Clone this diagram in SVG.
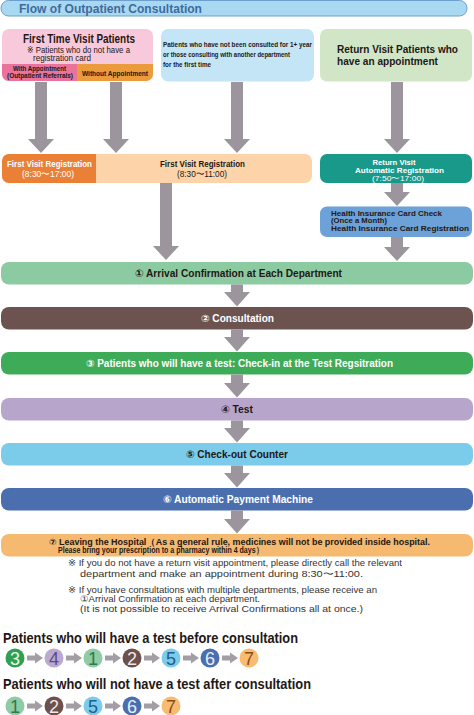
<svg xmlns="http://www.w3.org/2000/svg" width="474" height="715" viewBox="0 0 474 715">
<defs>
<style>
text{font-family:"Liberation Sans",Arial,"DejaVu Sans",sans-serif;fill:#231815}
.b{font-weight:bold}
.w{fill:#ffffff}
.c{text-anchor:middle}
.arr{fill:#9c959e}
.sarr{fill:#a39ea6}
.num{font-size:18px;text-anchor:middle}
.note{font-size:9.2px;fill:#333333}
</style>
<clipPath id="cpPink"><rect x="2" y="29" width="151" height="52" rx="7"/></clipPath>
<clipPath id="cpReg"><rect x="2" y="154" width="310" height="29" rx="7"/></clipPath>
</defs>
<rect width="474" height="715" fill="#ffffff"/>

<g id="title">
<rect x="1" y="0.5" width="466" height="15.5" rx="7.5" fill="#a9d8f1" stroke="#6c9fce" stroke-width="1"/>
<text x="19" y="12.7" class="b" font-size="12.5" textLength="183" lengthAdjust="spacingAndGlyphs" style="fill:#3e6b9e">Flow of Outpatient Consultation</text>
</g>

<g id="first-time">
<g clip-path="url(#cpPink)">
<rect x="2" y="29" width="151" height="52" fill="#f8c9da"/>
<rect x="2" y="64" width="75" height="17" fill="#e9739b"/>
<rect x="77" y="64" width="76" height="17" fill="#eb9a3c"/>
</g>
<text x="79" y="42.7" class="b c" font-size="12.5" textLength="112" lengthAdjust="spacingAndGlyphs">First Time Visit Patients</text>
<text x="27" y="52.6" font-size="8.2" textLength="103" lengthAdjust="spacingAndGlyphs">※ Patients who do not have a</text>
<text x="33" y="61.4" font-size="8.2" textLength="58" lengthAdjust="spacingAndGlyphs">registration card</text>
<text x="39.5" y="71" class="b c" font-size="6.6" textLength="53" lengthAdjust="spacingAndGlyphs">With Appointment</text>
<text x="40" y="77.6" class="b c" font-size="6.6" textLength="66" lengthAdjust="spacingAndGlyphs">(Outpatient Referrals)</text>
<text x="115" y="75.5" class="b c" font-size="8" textLength="66" lengthAdjust="spacingAndGlyphs">Without Appointment</text>
</g>

<g id="not-consulted">
<rect x="161" y="29" width="153" height="52.5" rx="7" fill="#c4e5f5"/>
<text x="163" y="47.3" class="b" font-size="8" textLength="149" lengthAdjust="spacingAndGlyphs">Patients who have not been consulted for 1+ year</text>
<text x="163" y="57.3" class="b" font-size="8" textLength="127" lengthAdjust="spacingAndGlyphs">or those consulting with another department</text>
<text x="163" y="67.3" class="b" font-size="8" textLength="48" lengthAdjust="spacingAndGlyphs">for the first time</text>
</g>

<g id="return-visit">
<rect x="320" y="29" width="152" height="52.5" rx="7" fill="#d1e5c7"/>
<text x="337" y="53.3" class="b" font-size="11.5" textLength="121" lengthAdjust="spacingAndGlyphs">Return Visit Patients who</text>
<text x="337" y="64.5" class="b" font-size="11.5" textLength="101" lengthAdjust="spacingAndGlyphs">have an appointment</text>
</g>

<g id="first-visit-registration">
<g clip-path="url(#cpReg)">
<rect x="2" y="154" width="310" height="29" fill="#fdd4a9"/>
<rect x="2" y="154" width="94" height="29" fill="#ea7f36"/>
</g>
<text x="49.5" y="166.7" class="b c w" font-size="9" textLength="85" lengthAdjust="spacingAndGlyphs">First Visit Registration</text>
<text x="48" y="176.5" class="c w" font-size="8.8" textLength="52" lengthAdjust="spacingAndGlyphs">(8:30〜17:00)</text>
<text x="202.5" y="166.7" class="b c" font-size="9" textLength="85" lengthAdjust="spacingAndGlyphs">First Visit Registration</text>
<text x="202" y="176.5" class="c" font-size="8.8" textLength="50" lengthAdjust="spacingAndGlyphs">(8:30〜11:00)</text>
</g>

<g id="return-registration">
<rect x="320" y="154" width="152" height="29" rx="7" fill="#18998a"/>
<text x="394" y="164.8" class="b c w" font-size="8" textLength="43" lengthAdjust="spacingAndGlyphs">Return Visit</text>
<text x="399.5" y="172.6" class="b c w" font-size="8" textLength="89" lengthAdjust="spacingAndGlyphs">Automatic Registration</text>
<text x="398" y="180.6" class="c w" font-size="8" textLength="52" lengthAdjust="spacingAndGlyphs">(7:50〜17:00)</text>
</g>

<g id="insurance-check">
<rect x="320" y="206.5" width="152" height="30.5" rx="7" fill="#6da2d8"/>
<text x="331" y="215.8" class="b" font-size="7.4" textLength="111" lengthAdjust="spacingAndGlyphs">Health Insurance Card Check</text>
<text x="331" y="223.4" class="b" font-size="7.4" textLength="56" lengthAdjust="spacingAndGlyphs"> (Once a Month)</text>
<text x="331" y="231" class="b" font-size="7.4" textLength="138" lengthAdjust="spacingAndGlyphs">Health Insurance Card Registration</text>
</g>

<g id="step1">
<rect x="1" y="262" width="472" height="22.5" rx="8" fill="#8ccaa1"/>
<text x="238.5" y="277" class="b c" font-size="10.5" textLength="207" lengthAdjust="spacingAndGlyphs">① Arrival Confirmation at Each Department</text>
</g>
<g id="step2">
<rect x="1" y="307" width="472" height="22.5" rx="8" fill="#6d5350"/>
<text x="237.5" y="322" class="b c w" font-size="10.5" textLength="73" lengthAdjust="spacingAndGlyphs">② Consultation</text>
</g>
<g id="step3">
<rect x="1" y="352" width="472" height="22.5" rx="8" fill="#3eab58"/>
<text x="239.5" y="367" class="b c w" font-size="10.5" textLength="307" lengthAdjust="spacingAndGlyphs">③ Patients who will have a test: Check-in at the Test Regsitration</text>
</g>
<g id="step4">
<rect x="1" y="398" width="472" height="22.5" rx="8" fill="#b8a5cc"/>
<text x="237" y="413" class="b c" font-size="10.5" textLength="32" lengthAdjust="spacingAndGlyphs">④ Test</text>
</g>
<g id="step5">
<rect x="1" y="443" width="472" height="22.5" rx="8" fill="#7bcbea"/>
<text x="237" y="458" class="b c" font-size="10.5" textLength="102" lengthAdjust="spacingAndGlyphs">⑤ Check-out Counter</text>
</g>
<g id="step6">
<rect x="1" y="488" width="472" height="22.5" rx="8" fill="#4b6fae"/>
<text x="238" y="503" class="b c w" font-size="10.5" textLength="150" lengthAdjust="spacingAndGlyphs">⑥ Automatic Payment Machine</text>
</g>
<g id="step7">
<rect x="1" y="534" width="472" height="22.5" rx="8" fill="#f5b970"/>
<text x="49" y="544.6" class="b" font-size="8.6" textLength="381" lengthAdjust="spacingAndGlyphs">⑦ Leaving the Hospital（As a general rule, medicines will not be provided inside hospital.</text>
<text x="58" y="553.4" class="b" font-size="8.6" textLength="205" lengthAdjust="spacingAndGlyphs">Please bring your prescription to a pharmacy within 4 days）</text>
</g>

<g id="notes">
<text x="68" y="565.5" class="note" textLength="334" lengthAdjust="spacingAndGlyphs">※ If you do not have a return visit appointment, please directly call the relevant</text>
<text x="80" y="576.5" class="note" textLength="283" lengthAdjust="spacingAndGlyphs">department and make an appointment during 8:30〜11:00.</text>
<text x="68" y="592.5" class="note" textLength="309" lengthAdjust="spacingAndGlyphs">※ If you have consultations with multiple departments, please receive an</text>
<text x="80" y="602.3" class="note" textLength="180" lengthAdjust="spacingAndGlyphs">①Arrival Confirmation at each department.</text>
<text x="80" y="612.3" class="note" textLength="283" lengthAdjust="spacingAndGlyphs">(It is not possible to receive Arrival Confirmations all at once.)</text>
</g>

<g id="connectors">
<path class="arr" d="M35,82H47V139H54L41,153L28,139H35Z"/>
<path class="arr" d="M110,82H122V139H129L116,153L103,139H110Z"/>
<path class="arr" d="M231,82H243V139H250L237,153L224,139H231Z"/>
<path class="arr" d="M391,82H403V139H410L397,153L384,139H391Z"/>
<path class="arr" d="M160,183H172V246H179L166,260L153,246H160Z"/>
<path class="arr" d="M391,183H403V192H410L397,206L384,192H391Z"/>
<path class="arr" d="M391,237H403V247H410L397,261L384,247H391Z"/>
<path class="arr" d="M231,284.5H243V292H250L237,306.5L224,292H231Z"/>
<path class="arr" d="M231,329.5H243V337H250L237,351.5L224,337H231Z"/>
<path class="arr" d="M231,374.5H243V383H250L237,397.5L224,383H231Z"/>
<path class="arr" d="M231,420.5H243V428H250L237,442.5L224,428H231Z"/>
<path class="arr" d="M231,465.5H243V473H250L237,487.5L224,473H231Z"/>
<path class="arr" d="M231,510.5H243V519H250L237,533.5L224,519H231Z"/>
</g>

<g id="sequence-test">
<text x="3" y="643" class="b" font-size="14" textLength="295" lengthAdjust="spacingAndGlyphs">Patients who will have a test before consultation</text>
<circle cx="15" cy="658" r="9.5" fill="#30a050"/>
<text x="15" y="664.5" class="num" style="fill:#e8f5ec">3</text>
<circle cx="54" cy="658" r="9.5" fill="#bba9d0"/>
<text x="54" y="664.5" class="num" style="fill:#5c4b8a">4</text>
<circle cx="93" cy="658" r="9.5" fill="#8fcba4"/>
<text x="93" y="664.5" class="num" style="fill:#2e7a4c">1</text>
<circle cx="132" cy="658" r="9.5" fill="#6b504d"/>
<text x="132" y="664.5" class="num" style="fill:#f0e6e4">2</text>
<circle cx="171" cy="658" r="9.5" fill="#7ccbe9"/>
<text x="171" y="664.5" class="num" style="fill:#1f5f8f">5</text>
<circle cx="210" cy="658" r="9.5" fill="#4a6fb0"/>
<text x="210" y="664.5" class="num" style="fill:#e8eef8">6</text>
<circle cx="249" cy="658" r="9.5" fill="#f7bb72"/>
<text x="249" y="664.5" class="num" style="fill:#8a4e14">7</text>
<path class="sarr" d="M27,655.5H35V652.5L43,658L35,663.5V660.5H27Z"/>
<path class="sarr" d="M66,655.5H74V652.5L82,658L74,663.5V660.5H66Z"/>
<path class="sarr" d="M105,655.5H113V652.5L121,658L113,663.5V660.5H105Z"/>
<path class="sarr" d="M144,655.5H152V652.5L160,658L152,663.5V660.5H144Z"/>
<path class="sarr" d="M183,655.5H191V652.5L199,658L191,663.5V660.5H183Z"/>
<path class="sarr" d="M222,655.5H230V652.5L238,658L230,663.5V660.5H222Z"/>
</g>

<g id="sequence-no-test">
<text x="3" y="689" class="b" font-size="14" textLength="308" lengthAdjust="spacingAndGlyphs">Patients who will not have a test after consultation</text>
<circle cx="15" cy="706" r="9.5" fill="#8fcba4"/>
<text x="15" y="712.5" class="num" style="fill:#2e7a4c">1</text>
<circle cx="54" cy="706" r="9.5" fill="#6b504d"/>
<text x="54" y="712.5" class="num" style="fill:#f0e6e4">2</text>
<circle cx="93" cy="706" r="9.5" fill="#7ccbe9"/>
<text x="93" y="712.5" class="num" style="fill:#1f5f8f">5</text>
<circle cx="132" cy="706" r="9.5" fill="#4a6fb0"/>
<text x="132" y="712.5" class="num" style="fill:#e8eef8">6</text>
<circle cx="171" cy="706" r="9.5" fill="#f7bb72"/>
<text x="171" y="712.5" class="num" style="fill:#8a4e14">7</text>
<path class="sarr" d="M27,703.5H35V700.5L43,706L35,711.5V708.5H27Z"/>
<path class="sarr" d="M66,703.5H74V700.5L82,706L74,711.5V708.5H66Z"/>
<path class="sarr" d="M105,703.5H113V700.5L121,706L113,711.5V708.5H105Z"/>
<path class="sarr" d="M144,703.5H152V700.5L160,706L152,711.5V708.5H144Z"/>
</g>
</svg>
